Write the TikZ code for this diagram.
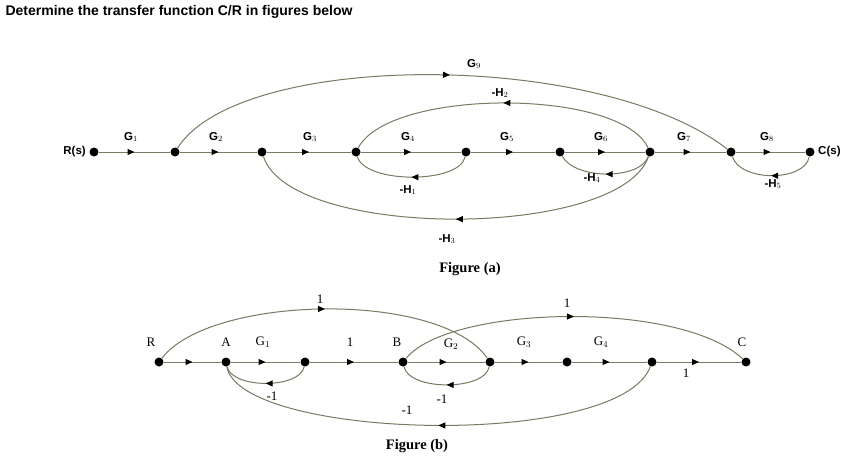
\documentclass[tikz,border=0pt]{standalone}
\usepackage{fontspec}
\setmainfont{Liberation Serif}
\newfontfamily\sansf{Liberation Sans}
\usetikzlibrary{arrows.meta,decorations.markings,positioning}

\newcommand{\RowA}{152}
\newcommand{\RowB}{362}

\begin{document}
\begin{tikzpicture}[
  x=1pt, y=-1pt,
  branch/.style={line width=1pt,draw=black!70!olive!70,
    postaction={decorate,decoration={markings,
      mark=at position .5 with {\arrow[black]{Triangle[length=7pt,width=6pt]}}}}},
  dot/.style={circle,fill=black,inner sep=0pt,minimum size=9pt},
  lab/.style={font=\sansf\bfseries\fontsize{11.5}{12}\selectfont},
  labb/.style={font=\fontsize{13}{14}\selectfont},
  caption/.style={font=\bfseries\fontsize{14.5}{15}\selectfont}
  ]
  \useasboundingbox (0,0) rectangle (853,461);

  \node[anchor=west,font=\sansf\bfseries\fontsize{14}{15}\selectfont] (title) at (2,12)
    {Determine the transfer function C/R in figures below};

  %nodes of figure (a)
  \foreach \name/\x in {r/94,a1/175,a2/262,a3/356,a4/466,a5/560,a6/650,a7/731,c/810}
    \node[dot] (\name) at (\x,\RowA) {};
  \node[lab,left=0pt of r] (rl) {R(s)};
  \node[lab,right=0pt of c] (cl) {C(s)};

  %forward path of figure (a)
  \draw[branch] (r) -- (a1);
  \draw[branch] (a1) -- (a2);
  \draw[branch] (a2) -- (a3);
  \draw[branch] (a3) -- (a4);
  \draw[branch] (a4) -- (a5);
  \draw[branch] (a5) -- (a6);
  \draw[branch] (a6) -- (a7);
  \draw[branch] (a7) -- (c);
  \foreach \t/\x in {1/131,2/216,3/310,4/408,5/507,6/601,7/684,8/767}
    \node[lab] (g\t) at (\x,137) {G$_{\t}$};

  %loops of figure (a)
  \draw[branch] (a1) .. controls (240,50) and (600,50) .. (a7);
  \draw[branch] (a6) .. controls (620,88) and (390,88) .. (a3);
  \draw[branch] (a4) .. controls (460,184) and (365,184) .. (a3);
  \draw[branch] (a6) .. controls (640,180) and (575,180) .. (a5);
  \draw[branch] (a6) .. controls (620,240) and (290,240) .. (a2);
  \draw[branch] (c) .. controls (805,182) and (740,182) .. (a7);
  \node[lab] (g9) at (474,64) {G$_9$};
  \node[lab] (h2) at (500,93) {-H$_2$};
  \node[lab] (h1) at (408,190) {-H$_1$};
  \node[lab] (h4) at (592,178) {-H$_4$};
  \node[lab] (h3) at (447,239) {-H$_3$};
  \node[lab] (h5) at (773,184) {-H$_5$};
  \node[caption] (capa) at (470,269) {Figure (a)};

  %nodes of figure (b)
  \foreach \name/\x in {br/159,ba/226,b1/305,bb/403,b2/490,b3/567,b4/652,bc/746}
    \node[dot] (\name) at (\x,\RowB) {};
  \draw[branch] (br) -- (ba);
  \draw[branch] (ba) -- (b1);
  \draw[branch] (b1) -- (bb);
  \draw[branch] (bb) -- (b2);
  \draw[branch] (b2) -- (b3);
  \draw[branch] (b3) -- (b4);
  \draw[branch] (b4) -- (bc);
  \draw[branch] (br) .. controls (210,295) and (440,290) .. (b2);
  \draw[branch] (bb) .. controls (450,305) and (680,300) .. (bc);
  \draw[branch] (b1) .. controls (300,389) and (232,389) .. (ba);
  \draw[branch] (b2) .. controls (485,391) and (409,391) .. (bb);
  \draw[branch] (b4) .. controls (620,450) and (240,440) .. (ba);

  \node[labb] (lr) at (151,342) {R};
  \node[labb] (la) at (226,342) {A};
  \node[labb] (lg1) at (263,342) {G$_1$};
  \node[labb] (l1) at (350,342) {1};
  \node[labb] (lb) at (397,342) {B};
  \node[labb] (lg2) at (451,344) {G$_2$};
  \node[labb] (lg3) at (524,342) {G$_3$};
  \node[labb] (lg4) at (601,342) {G$_4$};
  \node[labb] (lc) at (742,342) {C};
  \node[labb] (lt1) at (320,299) {1};
  \node[labb] (lt2) at (567,303) {1};
  \node[labb] (lm1) at (272,396) {-1};
  \node[labb] (lm2) at (442,399) {-1};
  \node[labb] (lm3) at (407,410) {-1};
  \node[labb] (lo) at (686,373) {1};
  \node[caption] (capb) at (417,446) {Figure (b)};
\end{tikzpicture}
\end{document}
